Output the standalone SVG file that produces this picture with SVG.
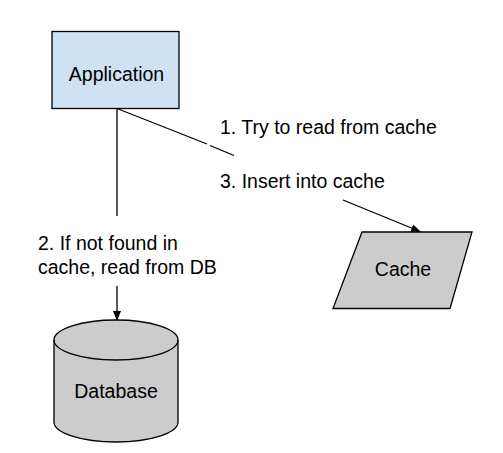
<svg xmlns="http://www.w3.org/2000/svg" width="503" height="453" viewBox="0 0 503 453">
<style>
text{font-family:"Liberation Sans",Arial,sans-serif;font-size:19.5px;fill:#000}
.c{text-anchor:middle}
.s{stroke:#000;stroke-width:1.3;fill:none}
.g{fill:#cccccc;stroke:#000;stroke-width:1.3}
</style>
<defs>
<marker id="ah" markerWidth="10" markerHeight="8" refX="9" refY="4" orient="auto" markerUnits="userSpaceOnUse">
<path d="M0,0 L10,4 L0,8 Z" fill="#000"/>
</marker>
</defs>
<rect width="503" height="453" fill="#fff"/>
<g id="connectors">
<path class="s" d="M117,108.5 L117,216 M117,286 L117,320" marker-end="url(#ah)"/>
<path class="s" d="M117,108.5 L207,144 M210,145.5 L234,155.5 M343,200 L420,231.5" marker-end="url(#ah)"/>
<text x="220" y="133.5">1. Try to read from cache</text>
<text x="220" y="187.5">3. Insert into cache</text>
<text x="38" y="250">2. If not found in</text>
<text x="38" y="274">cache, read from DB</text>
</g>
<g id="application">
<rect x="52" y="31.5" width="127" height="77" fill="#cfe2f3" stroke="#000" stroke-width="1.3"/>
<text class="c" x="116.5" y="81">Application</text>
</g>
<g id="cache">
<polygon class="g" points="362,232 472,232 450,308.5 333,308.5"/>
<text class="c" x="403" y="276">Cache</text>
</g>
<g id="database">
<path class="g" d="M54,340 L54,422 A62,20 0 0 0 178,422 L178,340 A62,20 0 0 0 54,340 Z"/>
<path class="s" d="M54,340 A62,20 0 0 0 178,340"/>
<text class="c" x="116" y="398">Database</text>
</g>
</svg>
